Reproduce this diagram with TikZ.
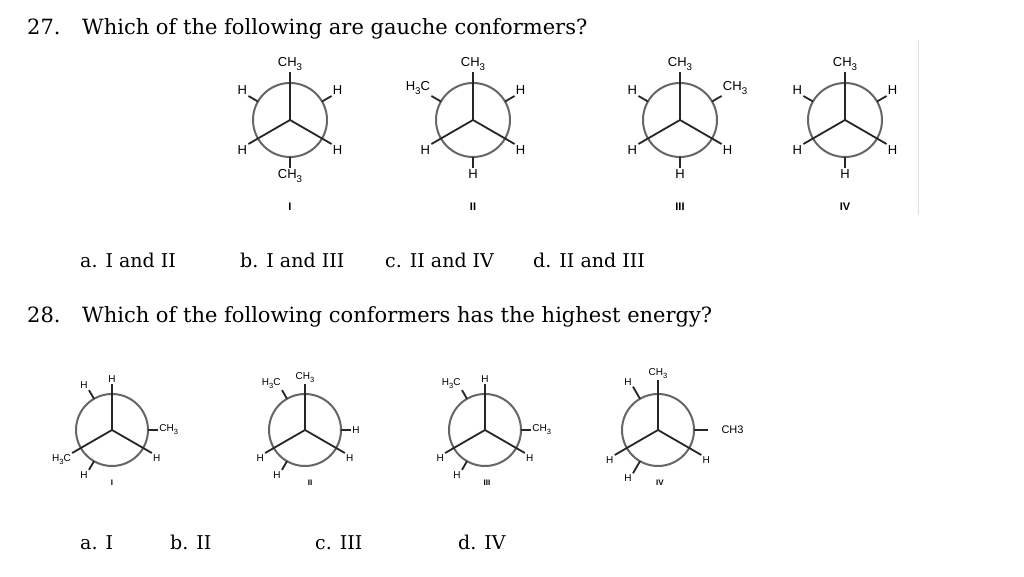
\documentclass[tikz,border=0pt]{standalone}
\usepackage{fontspec}
\setmainfont{DejaVu Serif}
\newfontfamily\chemfont{Liberation Sans}
\newcommand\chsub[1]{\raisebox{-0.3em}{\scalebox{0.75}{#1}}}
\newcommand\newman[7]{% #1 centre, #2 r, #3 ext, #4 font, #5 front list, #6 back list, #7 label distance
  \draw[ring] (#1) circle (#2);
  \foreach \a/\t in {#5}{\draw[bond] (#1) -- ++(\a:{#2+#3}) coordinate[label={[font=#4,inner sep=0.5pt,label distance=#7]\a:\t}];}
  \foreach \a/\t in {#6}{\draw[bond] (#1) ++(\a:#2) -- ++(\a:#3) coordinate[label={[font=#4,inner sep=0.5pt,label distance=#7]\a:\t}];}
}
\tikzset{ring/.style={draw=black!60,line width=2pt},bond/.style={draw=black!85,line width=1.8pt},
 qtext/.style={anchor=base west,font=\fontsize{21}{24}\selectfont,inner sep=0},
 atext/.style={anchor=base west,font=\fontsize{19}{22}\selectfont,inner sep=0},
 num/.style={font=\chemfont\bfseries\fontsize{11}{12}\selectfont},
 snum/.style={font=\chemfont\bfseries\fontsize{8}{9}\selectfont}}
\begin{document}
\begin{tikzpicture}[x=1pt,y=1pt]
\useasboundingbox (0,0) rectangle (1024,577);
\fill[white] (0,0) rectangle (1024,577);
\draw[black!12,line width=1pt] (918,537) -- (918,362);
\node[qtext] (q27) at (27,542) {27.};
\node[qtext] (q27t) at (82,542) {Which of the following are gauche conformers?};
\node[qtext] (q28) at (27,254) {28.};
\node[qtext] (q28t) at (82,254) {Which of the following conformers has the highest energy?};
\node[atext] (a1) at (80,309) {a. I and II};
\node[atext] (a2) at (240,309) {b. I and III};
\node[atext] (a3) at (385,309) {c. II and IV};
\node[atext] (a4) at (533,309) {d. II and III};
\node[atext] (b1) at (80,27) {a. I};
\node[atext] (b2) at (170,27) {b. II};
\node[atext] (b3) at (315,27) {c. III};
\node[atext] (b4) at (458,27) {d. IV};
% top set
\def\CH{CH\chsub{3}}\def\HC{H\chsub{3}C}
\coordinate (t1) at (290,457);
\coordinate (t2) at (473,457);
\coordinate (t3) at (680,457);
\coordinate (t4) at (845,457);
\newman{t1}{37}{11}{\chemfont\fontsize{13}{14}\selectfont}{90/\CH,210/H,330/H}{30/H,150/H,270/\CH}{0pt}
\newman{t2}{37}{11}{\chemfont\fontsize{13}{14}\selectfont}{90/\CH,210/H,330/H}{30/H,150/\HC,270/H}{0pt}
\newman{t3}{37}{11}{\chemfont\fontsize{13}{14}\selectfont}{90/\CH,210/H,330/H}{30/\CH,150/H,270/H}{0pt}
\newman{t4}{37}{11}{\chemfont\fontsize{13}{14}\selectfont}{90/\CH,210/H,330/H}{30/H,150/H,270/H}{0pt}
\node[num] (n1) at (290,370) {I};
\node[num] (n2) at (473,370) {II};
\node[num] (n3) at (680,370) {III};
\node[num] (n4) at (845,370) {IV};
% bottom set
\coordinate (s1) at (112,147);
\coordinate (s2) at (305,147);
\coordinate (s3) at (485,147);
\coordinate (s4) at (658,147);
\newman{s1}{36}{10}{\chemfont\fontsize{10}{11}\selectfont}{90/H,210/\HC,330/H}{0/\CH,120/H,240/H}{0pt}
\newman{s2}{36}{10}{\chemfont\fontsize{10}{11}\selectfont}{90/\CH,210/H,330/H}{0/H,120/\HC,240/H}{0pt}
\newman{s3}{36}{10}{\chemfont\fontsize{10}{11}\selectfont}{90/H,210/H,330/H}{0/\CH,120/\HC,240/H}{0pt}
\newman{s4}{36}{14}{\chemfont\fontsize{10}{11}\selectfont}{90/\CH,210/H,330/H}{120/H,240/H}{0pt}
\draw[bond] (s4) ++(0:36) -- ++(0:14) coordinate (s4e);
\node[anchor=west,font=\chemfont\fontsize{11}{12}\selectfont] (s4t) at ([xshift=10pt]s4e) {CH3};
\node[snum] (m1) at (112,94) {I};
\node[snum] (m2) at (310,94) {II};
\node[snum] (m3) at (487,94) {III};
\node[snum] (m4) at (660,94) {IV};
\end{tikzpicture}
\end{document}
